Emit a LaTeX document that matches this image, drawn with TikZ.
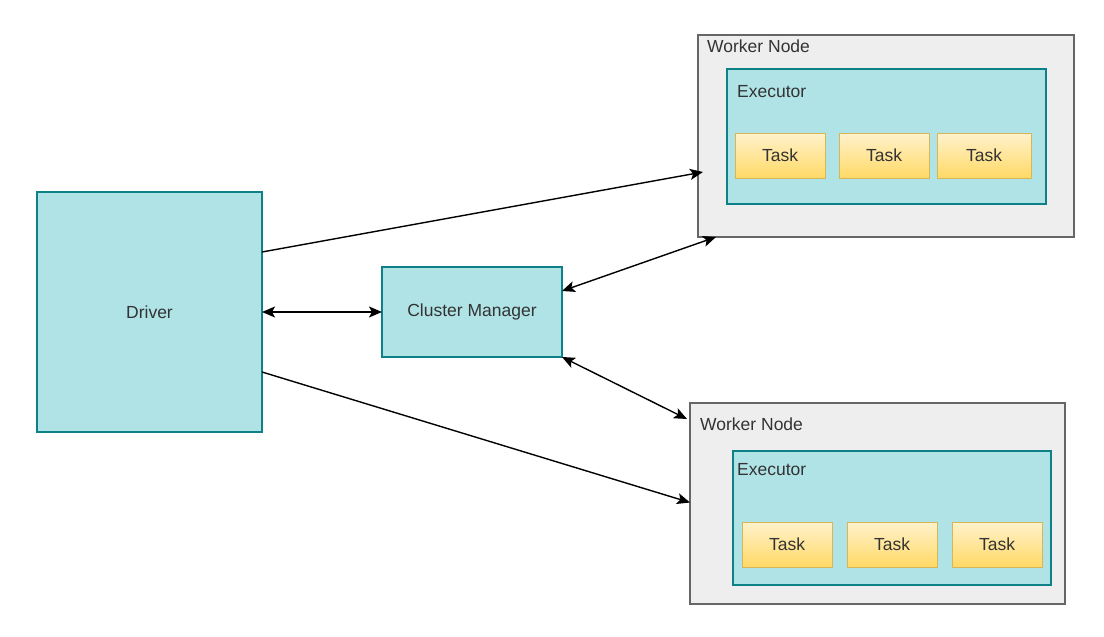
\documentclass[tikz,border=0pt]{standalone}
\usepackage{fontspec}
\setmainfont{Liberation Sans}
\usetikzlibrary{arrows.meta,positioning,calc}
\definecolor{tealfill}{HTML}{B0E3E6}
\definecolor{tealline}{HTML}{0E8088}
\definecolor{taskline}{HTML}{D6B656}
\definecolor{tasktop}{HTML}{FFF2CC}
\definecolor{taskbot}{HTML}{FFD966}
\definecolor{workfill}{HTML}{EEEEEE}
\definecolor{workline}{HTML}{666666}
\definecolor{txt}{HTML}{333333}
\tikzset{
  base/.style={rectangle, outer sep=0pt, inner sep=0pt, line width=1.3pt, anchor=north west},
  tealbox/.style={base, draw=tealline, fill=tealfill},
  workerbox/.style={base, draw=workline, fill=workfill},
  taskbox/.style={base, draw=taskline, top color=tasktop, bottom color=taskbot, line width=1pt},
  lbl/.style={anchor=north west, inner sep=0pt, text=txt, font=\fontsize{17.5}{20}\selectfont},
  ctr/.style={text=txt, font=\fontsize{17.5}{20}\selectfont},
  conn/.style={line width=1.4pt, black},
  tip/.style={-{Stealth[length=13pt,width=11pt,inset=3pt]}},
  dtip/.style={{Stealth[length=13pt,width=11pt,inset=3pt]}-{Stealth[length=13pt,width=11pt,inset=3pt]}},
}
\begin{document}
\begin{tikzpicture}[x=1pt,y=-1pt]
\useasboundingbox[fill=white] (0,0) rectangle (1104,637);
% Driver
\node[tealbox, minimum width=225pt, minimum height=240pt] (driver) at (37,192) {};
\node[ctr] (drivert) at (driver.center) {Driver};
% Cluster manager
\node[tealbox, minimum width=180pt, minimum height=90pt] (cm) at (382,267) {};
\node[ctr] (cmt) at (cm.center) {Cluster Manager};
% Worker 1
\node[workerbox, minimum width=376pt, minimum height=202pt] (w1) at (698,35) {};
\node[lbl] (w1t) at (707,40) {Worker Node};
\node[tealbox, minimum width=319pt, minimum height=135pt] (e1) at (727,69) {};
\node[lbl] (e1t) at (737,85) {Executor};
\node[taskbox, minimum width=90pt, minimum height=45pt] (t11) at (735,133) {};
\node[taskbox, minimum width=90pt, minimum height=45pt] (t12) at (839,133) {};
\node[taskbox, minimum width=94pt, minimum height=45pt] (t13) at (937,133) {};
\node[ctr] at (t11.center) {Task};
\node[ctr] at (t12.center) {Task};
\node[ctr] at (t13.center) {Task};
% Worker 2
\node[workerbox, minimum width=375pt, minimum height=201pt] (w2) at (690,403) {};
\node[lbl] (w2t) at (700,418) {Worker Node};
\node[tealbox, minimum width=318pt, minimum height=134pt] (e2) at (733,451) {};
\node[lbl] (e2t) at (737,463) {Executor};
\node[taskbox, minimum width=90pt, minimum height=45pt] (t21) at (742,522) {};
\node[taskbox, minimum width=90pt, minimum height=45pt] (t22) at (847,522) {};
\node[taskbox, minimum width=90pt, minimum height=45pt] (t23) at (952,522) {};
\node[ctr] at (t21.center) {Task};
\node[ctr] at (t22.center) {Task};
\node[ctr] at (t23.center) {Task};
% Connectors
\draw[conn,tip] ([yshift=60pt]driver.east) -- ([yshift=-36pt,xshift=5pt]w1.west);
\draw[conn,tip] ([yshift=-60pt]driver.east) -- ([yshift=1pt]w2.west);
\draw[conn,dtip] (driver.east) -- (cm.west);
\draw[conn,dtip] ([yshift=21pt]cm.east) -- ([xshift=18pt]w1.south west);
\draw[conn,dtip] (cm.south east) -- ([yshift=-16pt,xshift=-3pt]w2.north west);
\end{tikzpicture}
\end{document}
